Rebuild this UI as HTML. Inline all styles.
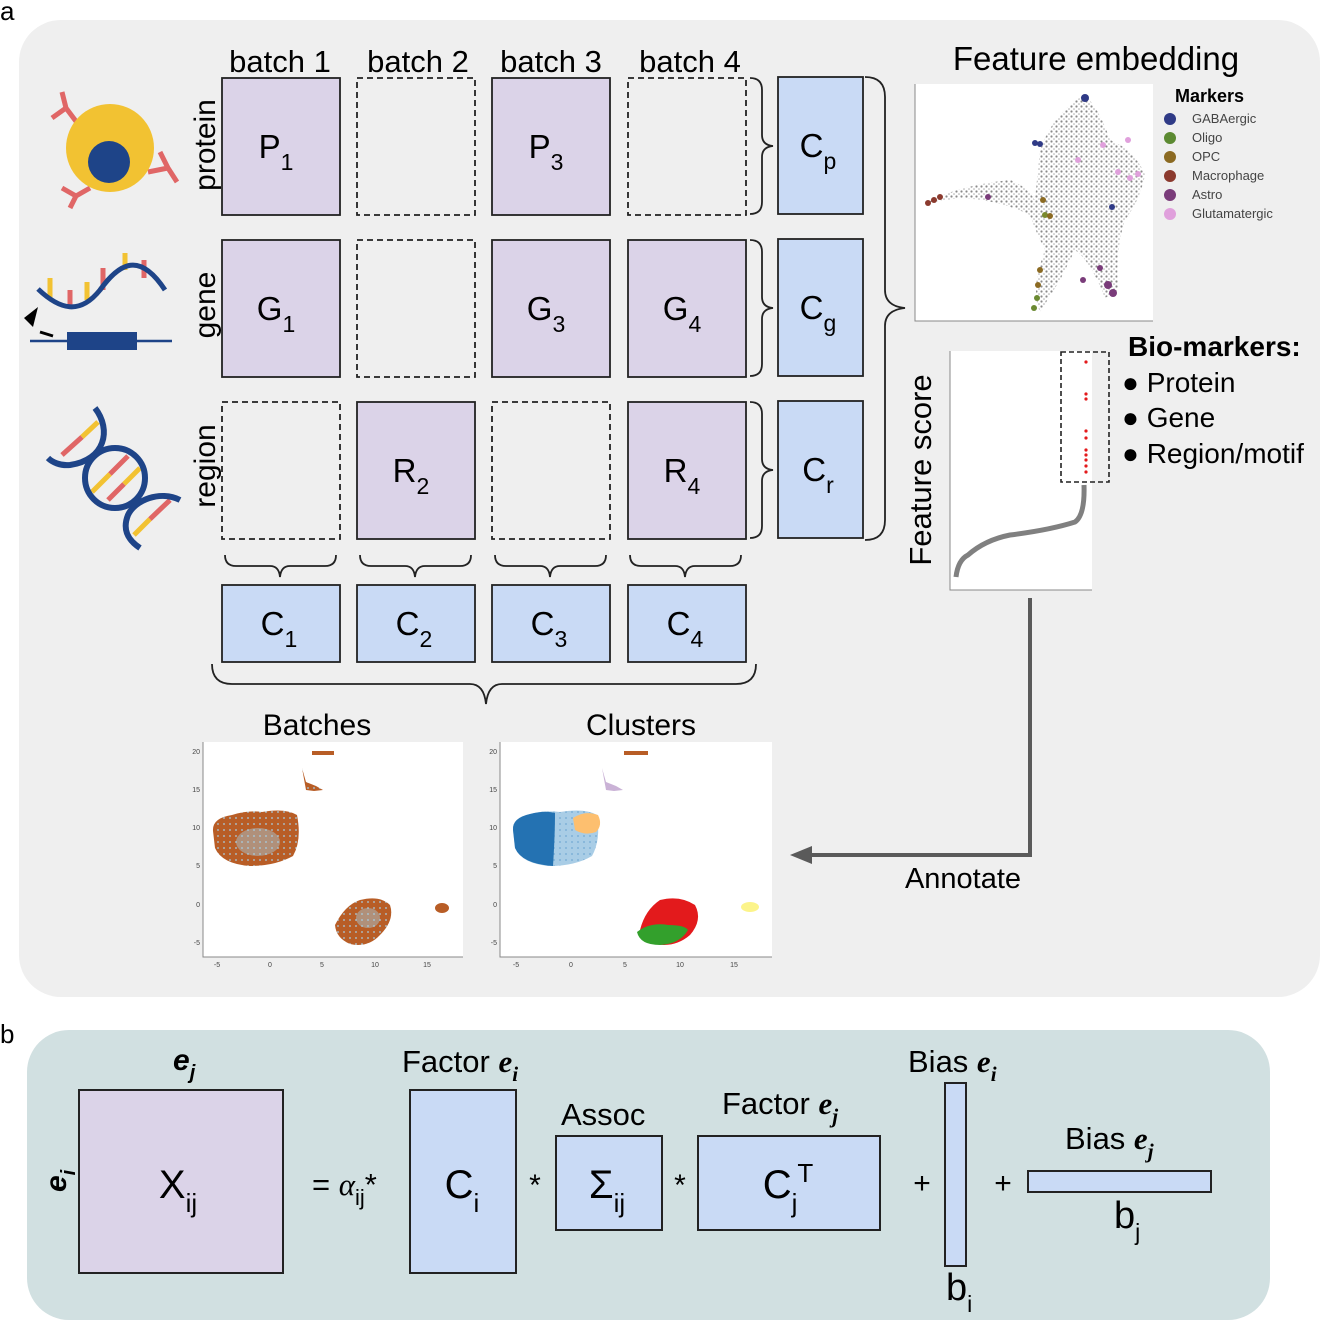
<!DOCTYPE html>
<html><head><meta charset="utf-8"><style>html,body{margin:0;padding:0;background:#fff}svg{display:block}text{font-family:"Liberation Sans",Arial,sans-serif}</style></head><body>
<svg width="1322" height="1321" viewBox="0 0 1322 1321" xmlns="http://www.w3.org/2000/svg">
<defs>
<pattern id="bb" width="6" height="6" patternUnits="userSpaceOnUse"><rect width="6" height="6" fill="#b85d26"/><circle cx="2" cy="2" r="0.9" fill="#a6cee3"/></pattern>
<pattern id="lb" width="6" height="6" patternUnits="userSpaceOnUse"><rect width="6" height="6" fill="#a9cde6"/><circle cx="2" cy="2" r="1" fill="#7fb2d8"/></pattern>
<pattern id="gd" width="5" height="5" patternUnits="userSpaceOnUse"><circle cx="1.5" cy="1.5" r="1.1" fill="#8a8a8a"/><circle cx="4" cy="4" r="0.8" fill="#aaa"/></pattern>
</defs>
<rect width="1322" height="1321" fill="#fff"/>
<text x="0" y="20" font-size="26">a</text>
<text x="0" y="1043" font-size="26">b</text>
<rect x="19" y="20" width="1301" height="977" rx="42" fill="#efefef"/>
<rect x="27" y="1030" width="1243" height="290" rx="42" fill="#d1e0e1"/>

<g stroke="#e06666" stroke-width="5" fill="none">
<path d="M78 124 L66 108 M66 108 L52 118 M66 108 L62 92"/>
<path d="M148 172 L168 168 M168 168 L177 182 M168 168 L160 152"/>
<path d="M90 188 L76 196 M76 196 L70 208 M76 196 L62 188"/>
</g>
<circle cx="110" cy="148" r="44" fill="#f2c232"/>
<circle cx="109" cy="162" r="21" fill="#1e4488"/>
<g stroke-width="5"><line x1="50" y1="278" x2="50" y2="298" stroke="#f2c232"/><line x1="70" y1="290" x2="70" y2="308" stroke="#e06666"/><line x1="87" y1="282" x2="87" y2="300" stroke="#f2c232"/><line x1="103" y1="268" x2="103" y2="290" stroke="#e06666"/><line x1="125" y1="253" x2="125" y2="270" stroke="#f2c232"/><line x1="144" y1="260" x2="144" y2="278" stroke="#e06666"/></g>
<path d="M38 289 C60 310 80 315 100 290 C120 262 140 252 165 290" stroke="#1e4488" stroke-width="5" fill="none"/>
<line x1="30" y1="341" x2="172" y2="341" stroke="#1e4488" stroke-width="2.5"/>
<rect x="67" y="332" width="70" height="18" fill="#1e4488"/>
<path d="M24 318 L38 307 L33 327 Z" fill="#000"/><line x1="40" y1="332" x2="53" y2="336" stroke="#000" stroke-width="3"/>
<g stroke-width="5"><line x1="62" y1="455" x2="82" y2="437" stroke="#e06666"/><line x1="82" y1="437" x2="98" y2="422" stroke="#f2c232"/><line x1="92" y1="492" x2="110" y2="474" stroke="#f2c232"/><line x1="110" y1="474" x2="128" y2="456" stroke="#e06666"/><line x1="108" y1="500" x2="124" y2="484" stroke="#e06666"/><line x1="124" y1="484" x2="140" y2="468" stroke="#f2c232"/><line x1="134" y1="535" x2="150" y2="519" stroke="#f2c232"/><line x1="150" y1="519" x2="170" y2="500" stroke="#e06666"/></g>
<g stroke="#1e4488" stroke-width="6" fill="none"><path d="M95 408 C112 430 105 460 70 465 C60 466 52 462 48 458"/><circle cx="115" cy="478" r="30"/><path d="M180 500 C160 490 135 500 128 515 C122 530 128 540 140 548"/></g>

<g font-size="31" text-anchor="middle"><text x="280" y="72">batch 1</text><text x="418" y="72">batch 2</text><text x="551" y="72">batch 3</text><text x="690" y="72">batch 4</text></g>
<g font-size="30" text-anchor="middle"><text transform="translate(215,145) rotate(-90)">protein</text><text transform="translate(215,305) rotate(-90)">gene</text><text transform="translate(215,466) rotate(-90)">region</text></g>

<g stroke="#222" stroke-width="1.8">
<rect x="222" y="78" width="118" height="137" fill="#dbd3e8"/>
<rect x="357" y="78" width="118" height="137" fill="none" stroke-dasharray="6,4"/>
<rect x="492" y="78" width="118" height="137" fill="#dbd3e8"/>
<rect x="628" y="78" width="118" height="137" fill="none" stroke-dasharray="6,4"/>
<rect x="222" y="240" width="118" height="137" fill="#dbd3e8"/>
<rect x="357" y="240" width="118" height="137" fill="none" stroke-dasharray="6,4"/>
<rect x="492" y="240" width="118" height="137" fill="#dbd3e8"/>
<rect x="628" y="240" width="118" height="137" fill="#dbd3e8"/>
<rect x="222" y="402" width="118" height="137" fill="none" stroke-dasharray="6,4"/>
<rect x="357" y="402" width="118" height="137" fill="#dbd3e8"/>
<rect x="492" y="402" width="118" height="137" fill="none" stroke-dasharray="6,4"/>
<rect x="628" y="402" width="118" height="137" fill="#dbd3e8"/>
<rect x="778" y="77" width="85" height="137" fill="#c9daf5"/>
<rect x="778" y="239" width="85" height="137" fill="#c9daf5"/>
<rect x="778" y="401" width="85" height="137" fill="#c9daf5"/>
<rect x="222" y="585" width="118" height="77" fill="#c9daf5"/>
<rect x="357" y="585" width="118" height="77" fill="#c9daf5"/>
<rect x="492" y="585" width="118" height="77" fill="#c9daf5"/>
<rect x="628" y="585" width="118" height="77" fill="#c9daf5"/>
</g>
<g font-size="33" text-anchor="middle">
<text x="276" y="158">P<tspan font-size="23" dy="12">1</tspan></text>
<text x="546" y="158">P<tspan font-size="23" dy="12">3</tspan></text>
<text x="276" y="320">G<tspan font-size="23" dy="12">1</tspan></text>
<text x="546" y="320">G<tspan font-size="23" dy="12">3</tspan></text>
<text x="682" y="320">G<tspan font-size="23" dy="12">4</tspan></text>
<text x="411" y="482">R<tspan font-size="23" dy="12">2</tspan></text>
<text x="682" y="482">R<tspan font-size="23" dy="12">4</tspan></text>
<text x="818" y="157">C<tspan font-size="23" dy="12">p</tspan></text>
<text x="818" y="319">C<tspan font-size="23" dy="12">g</tspan></text>
<text x="818" y="481">C<tspan font-size="23" dy="12">r</tspan></text>
<text x="279" y="635">C<tspan font-size="23" dy="12">1</tspan></text>
<text x="414" y="635">C<tspan font-size="23" dy="12">2</tspan></text>
<text x="549" y="635">C<tspan font-size="23" dy="12">3</tspan></text>
<text x="685" y="635">C<tspan font-size="23" dy="12">4</tspan></text>
</g>

<g stroke="#222" stroke-width="1.8" fill="none">
<path d="M750 78 Q762 78 762 90 L762 135 Q762 145 773 146 Q762 147 762 157 L762 202 Q762 214 750 214"/>
<path d="M750 240 Q762 240 762 252 L762 297 Q762 307 773 308 Q762 309 762 319 L762 364 Q762 376 750 376"/>
<path d="M750 402 Q762 402 762 414 L762 459 Q762 469 773 470 Q762 471 762 481 L762 526 Q762 538 750 538"/>
<path d="M865 77 Q885 77 885 97 L885 290 Q885 306 905 308 Q885 310 885 326 L885 520 Q885 540 865 540"/>
<path d="M225 555 Q225 566 236 566 L270 566 Q279 566 280 577 Q281 566 290 566 L325 566 Q336 566 336 555"/>
<path d="M360 555 Q360 566 371 566 L405 566 Q414 566 415 577 Q416 566 425 566 L460 566 Q471 566 471 555"/>
<path d="M495 555 Q495 566 506 566 L540 566 Q549 566 550 577 Q551 566 560 566 L595 566 Q606 566 606 555"/>
<path d="M630 555 Q630 566 641 566 L675 566 Q684 566 685 577 Q686 566 695 566 L730 566 Q741 566 741 555"/>
<path d="M212 664 Q212 684 232 684 L470 684 Q484 684 486 704 Q488 684 502 684 L736 684 Q756 684 756 664"/>
</g>

<text x="317" y="735" font-size="30" text-anchor="middle">Batches</text>
<rect x="203" y="742" width="260" height="215" fill="#fff"/>
<path d="M203 742 V957 H463" stroke="#888" fill="none"/>
<g font-size="7" fill="#444" text-anchor="end"><text x="200" y="754">20</text><text x="200" y="792">15</text><text x="200" y="830">10</text><text x="200" y="868">5</text><text x="200" y="907">0</text><text x="200" y="945">-5</text></g>
<g font-size="7" fill="#444" text-anchor="middle"><text x="217" y="967">-5</text><text x="270" y="967">0</text><text x="322" y="967">5</text><text x="375" y="967">10</text><text x="427" y="967">15</text></g>
<path d="M213 831 Q212 818 232 815 Q248 810 262 812 Q285 808 297 815 Q302 840 293 856 Q275 866 250 866 Q222 864 215 848 Z" fill="url(#bb)"/>
<ellipse cx="258" cy="842" rx="22" ry="14" fill="#a6cee3" opacity="0.45"/>
<path d="M335 925 Q345 905 360 900 Q380 895 390 905 Q395 920 380 935 Q368 948 350 944 Q336 938 335 925 Z" fill="url(#bb)"/>
<ellipse cx="368" cy="918" rx="12" ry="10" fill="#a6cee3" opacity="0.45"/>
<path d="M302 768 L306 782 L316 786 L323 790 L314 791 L306 790 Z" fill="url(#bb)"/>
<rect x="312" y="751" width="22" height="4" fill="#b85d26"/>
<ellipse cx="442" cy="908" rx="7" ry="5" fill="#b85d26"/>
<text x="641" y="735" font-size="30" text-anchor="middle">Clusters</text>
<rect x="500" y="742" width="272" height="215" fill="#fff"/>
<path d="M500 742 V957 H772" stroke="#888" fill="none"/>
<g font-size="7" fill="#444" text-anchor="end"><text x="497" y="754">20</text><text x="497" y="792">15</text><text x="497" y="830">10</text><text x="497" y="868">5</text><text x="497" y="907">0</text><text x="497" y="945">-5</text></g>
<g font-size="7" fill="#444" text-anchor="middle"><text x="516" y="967">-5</text><text x="571" y="967">0</text><text x="625" y="967">5</text><text x="680" y="967">10</text><text x="734" y="967">15</text></g>
<path d="M513 830 Q512 818 530 814 Q545 810 560 812 Q585 808 597 815 Q601 840 592 856 Q575 866 550 866 Q522 864 515 848 Z" fill="url(#lb)"/>
<path d="M513 830 Q512 818 530 814 Q545 810 555 813 Q555 835 553 866 Q522 864 515 848 Z" fill="#2472b2"/>
<path d="M573 818 Q585 810 598 815 Q603 825 596 832 Q585 836 575 830 Z" fill="#fdbf6f"/>
<path d="M640 930 Q645 910 660 900 Q680 895 695 905 Q703 920 690 935 Q675 948 655 944 Q640 940 640 930 Z" fill="#e31a1c"/>
<path d="M637 932 Q650 922 668 925 Q685 925 688 930 Q680 944 660 945 Q640 945 637 932 Z" fill="#33a02c"/>
<path d="M602 768 L606 782 L616 786 L623 790 L614 791 L606 790 Z" fill="#cab2d6"/>
<rect x="624" y="751" width="24" height="4" fill="#b85d26"/>
<ellipse cx="750" cy="907" rx="9" ry="5" fill="#fcf48a"/>

<text x="1096" y="70" font-size="33" text-anchor="middle">Feature embedding</text>
<rect x="915" y="84" width="238" height="237" fill="#fff"/>
<path d="M915 84 V321 H1153" stroke="#888" fill="none"/>
<path d="M925 203 Q960 185 1010 180 Q1025 185 1035 200 L1040 150 Q1055 110 1085 95 Q1100 110 1110 140 Q1135 150 1145 175 Q1140 200 1125 220 Q1115 250 1118 290 L1105 298 Q1090 260 1075 250 Q1065 270 1060 280 L1040 312 Q1030 290 1045 250 Q1035 230 1030 215 Q1000 200 960 198 Z" fill="url(#gd)"/>
<g><circle cx="1085" cy="98" r="4" fill="#2f3a86"/><circle cx="1035" cy="143" r="3" fill="#2f3a86"/><circle cx="1040" cy="144" r="3" fill="#2f3a86"/><circle cx="1112" cy="207" r="3" fill="#2f3a86"/>
<circle cx="928" cy="203" r="3" fill="#8b3a2e"/><circle cx="934" cy="200" r="3" fill="#8b3a2e"/><circle cx="940" cy="197" r="3" fill="#8b3a2e"/>
<circle cx="1043" cy="200" r="3" fill="#8b6a22"/><circle cx="1045" cy="215" r="3" fill="#7a8a2e"/><circle cx="1050" cy="216" r="3" fill="#8b6a22"/><circle cx="1040" cy="270" r="3" fill="#8b6a22"/><circle cx="1038" cy="285" r="3" fill="#8b6a22"/><circle cx="1037" cy="298" r="3" fill="#6b8a32"/><circle cx="1034" cy="308" r="3" fill="#6b8a32"/>
<circle cx="1100" cy="268" r="3" fill="#7a3c7a"/><circle cx="1108" cy="285" r="4" fill="#7a3c7a"/><circle cx="1113" cy="293" r="4" fill="#7a3c7a"/><circle cx="988" cy="197" r="3" fill="#7a3c7a"/><circle cx="1083" cy="280" r="3" fill="#7a3c7a"/>
<circle cx="1103" cy="145" r="3" fill="#e0a0dc"/><circle cx="1128" cy="140" r="3" fill="#e0a0dc"/><circle cx="1078" cy="160" r="3" fill="#e0a0dc"/><circle cx="1138" cy="174" r="3" fill="#e0a0dc"/><circle cx="1130" cy="178" r="3" fill="#e0a0dc"/><circle cx="1118" cy="172" r="3" fill="#e0a0dc"/></g>
<text x="1175" y="102" font-size="18" font-weight="bold">Markers</text>
<g font-size="13" fill="#444"><circle cx="1170" cy="119" r="6" fill="#2f3a86"/><text x="1192" y="123">GABAergic</text>
<circle cx="1170" cy="138" r="6" fill="#5c8a32"/><text x="1192" y="142">Oligo</text>
<circle cx="1170" cy="157" r="6" fill="#8b6a22"/><text x="1192" y="161">OPC</text>
<circle cx="1170" cy="176" r="6" fill="#8b3a2e"/><text x="1192" y="180">Macrophage</text>
<circle cx="1170" cy="195" r="6" fill="#7a3c7a"/><text x="1192" y="199">Astro</text>
<circle cx="1170" cy="214" r="6" fill="#e0a0dc"/><text x="1192" y="218">Glutamatergic</text></g>

<rect x="950" y="351" width="142" height="239" fill="#fff"/>
<path d="M950 351 V590 H1092" stroke="#888" fill="none"/>
<path d="M956 577 Q958 560 968 555 Q985 540 1010 535 Q1050 530 1075 522 Q1085 515 1084 485" stroke="#808080" stroke-width="5" fill="none"/>
<g fill="#e31a1c"><circle cx="1086" cy="362" r="1.6"/><circle cx="1086" cy="394" r="1.6"/><circle cx="1086" cy="399" r="1.6"/><circle cx="1086" cy="431" r="1.6"/><circle cx="1086" cy="438" r="1.6"/><circle cx="1086" cy="450" r="1.6"/><circle cx="1086" cy="455" r="1.6"/><circle cx="1086" cy="460" r="1.6"/><circle cx="1086" cy="466" r="1.6"/><circle cx="1086" cy="472" r="1.6"/></g>
<rect x="1061" y="352" width="48" height="130" fill="none" stroke="#222" stroke-width="1.6" stroke-dasharray="5,3"/>
<text transform="translate(931,470) rotate(-90)" font-size="31" text-anchor="middle">Feature score</text>
<text x="1128" y="356" font-size="28" font-weight="bold">Bio-markers:</text>
<g font-size="28"><text x="1122" y="392">● Protein</text><text x="1122" y="427">● Gene</text><text x="1122" y="463">● Region/motif</text></g>
<path d="M1030 598 V855 H808" stroke="#5a5a5a" stroke-width="4" fill="none"/>
<path d="M790 855 L812 846 L812 864 Z" fill="#5a5a5a"/>
<text x="963" y="888" font-size="29" text-anchor="middle">Annotate</text>

<g stroke="#222" stroke-width="2">
<rect x="79" y="1090" width="204" height="183" fill="#dbd3e8"/>
<rect x="410" y="1090" width="106" height="183" fill="#c9daf5"/>
<rect x="556" y="1136" width="106" height="94" fill="#c9daf5"/>
<rect x="698" y="1136" width="182" height="94" fill="#c9daf5"/>
<rect x="945" y="1083" width="21" height="183" fill="#c9daf5"/>
<rect x="1028" y="1171" width="183" height="21" fill="#c9daf5"/>
</g>
<g font-family="Liberation Serif" font-style="italic" font-weight="bold" font-size="30">
<text x="173" y="1070">e<tspan font-size="20" dy="9">j</tspan></text>
<text transform="translate(66,1192) rotate(-90)">e<tspan font-size="20" dy="9">i</tspan></text>
</g>
<g font-size="40" text-anchor="middle">
<text x="178" y="1198">X<tspan font-size="26" dy="14">ij</tspan></text>
<text x="462" y="1198">C<tspan font-size="26" dy="14">i</tspan></text>
<text x="607" y="1198">Σ<tspan font-size="26" dy="14">ij</tspan></text>
<text x="788" y="1198">C<tspan font-size="26" dy="14">j</tspan><tspan font-size="26" dy="-30">T</tspan></text>
</g>
<text x="312" y="1195" font-size="31">= <tspan font-family="Liberation Serif" font-style="italic">α</tspan><tspan font-size="22" dy="10">ij</tspan><tspan dy="-10">*</tspan></text>
<g font-size="30" text-anchor="middle"><text x="535" y="1195">*</text><text x="680" y="1195">*</text><text x="922" y="1193">+</text><text x="1003" y="1193">+</text></g>
<g font-size="31">
<text x="402" y="1072">Factor <tspan font-family="Liberation Serif" font-style="italic" font-weight="bold">e</tspan><tspan font-family="Liberation Serif" font-style="italic" font-weight="bold" font-size="21" dy="9">i</tspan></text>
<text x="561" y="1125">Assoc</text>
<text x="722" y="1114">Factor <tspan font-family="Liberation Serif" font-style="italic" font-weight="bold">e</tspan><tspan font-family="Liberation Serif" font-style="italic" font-weight="bold" font-size="21" dy="9">j</tspan></text>
<text x="908" y="1072">Bias <tspan font-family="Liberation Serif" font-style="italic" font-weight="bold">e</tspan><tspan font-family="Liberation Serif" font-style="italic" font-weight="bold" font-size="21" dy="9">i</tspan></text>
<text x="1065" y="1149">Bias <tspan font-family="Liberation Serif" font-style="italic" font-weight="bold">e</tspan><tspan font-family="Liberation Serif" font-style="italic" font-weight="bold" font-size="21" dy="9">j</tspan></text>
</g>
<g font-size="38"><text x="946" y="1300">b<tspan font-size="23" dy="12">i</tspan></text><text x="1114" y="1228">b<tspan font-size="23" dy="12">j</tspan></text></g>
</svg>
</body></html>
